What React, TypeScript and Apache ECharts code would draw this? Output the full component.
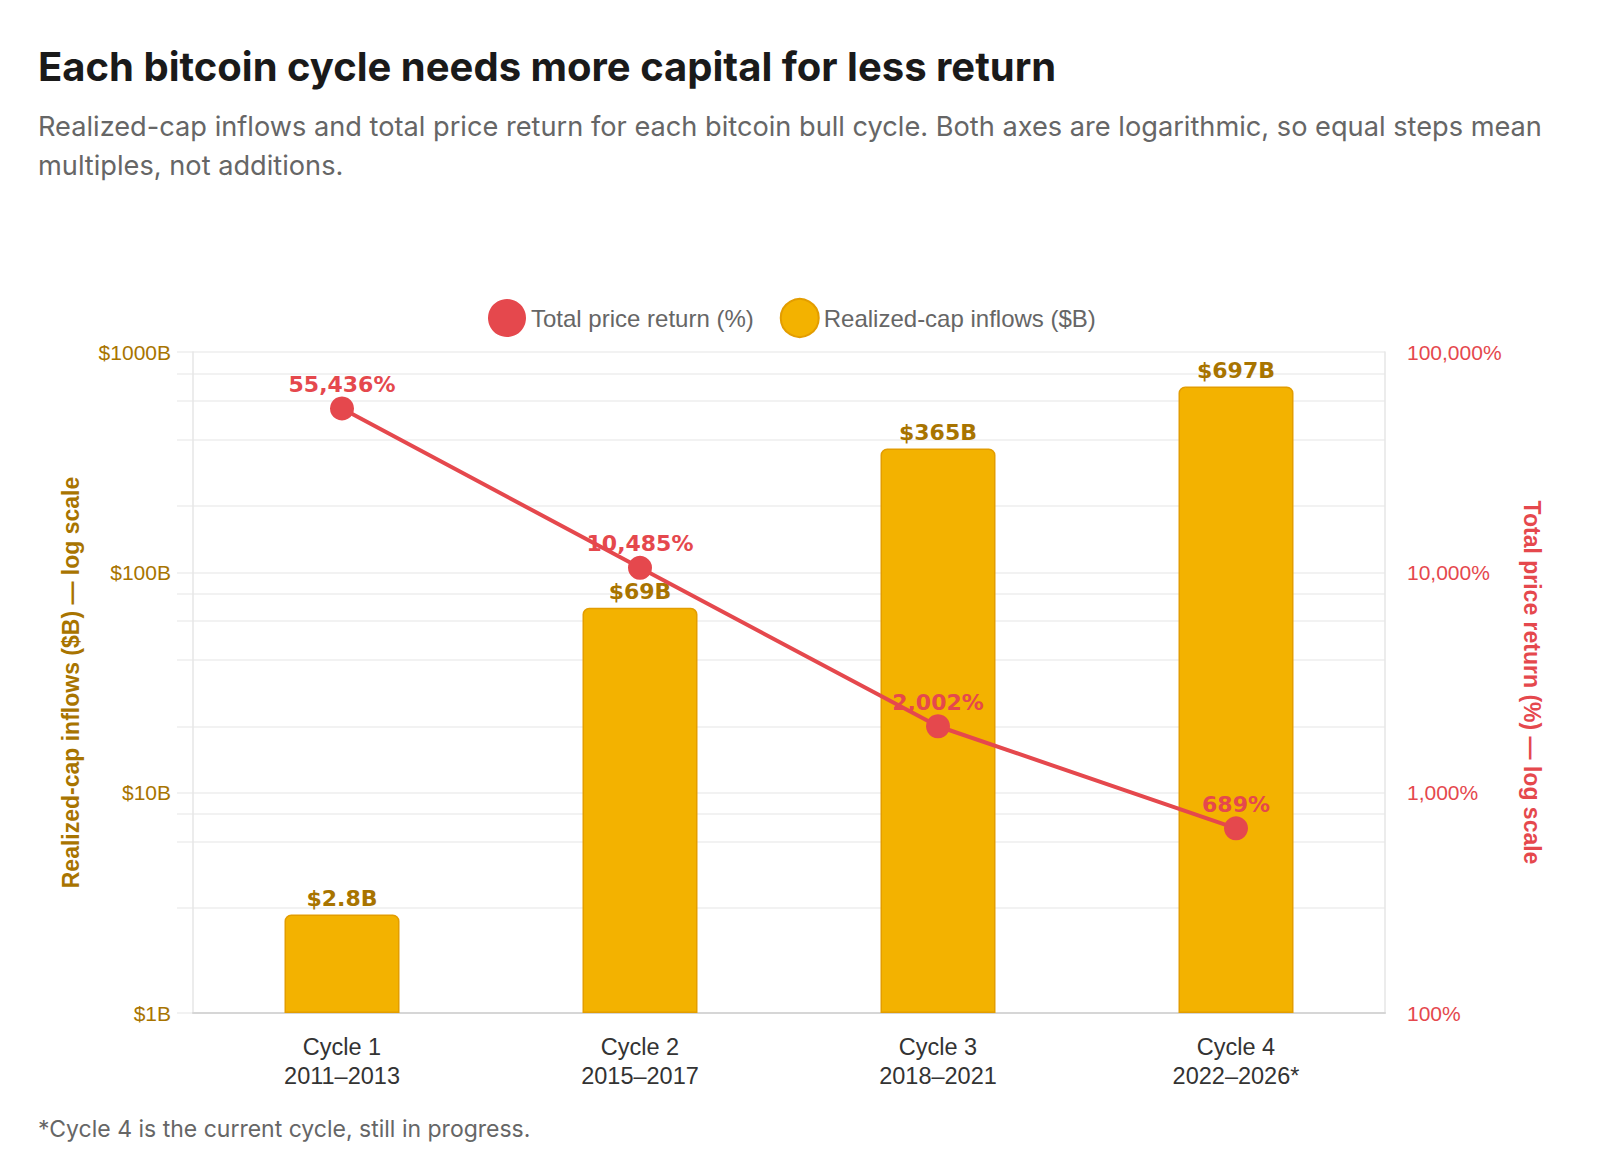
import React, { useEffect, useRef } from "react";
import * as echarts from "echarts";

const cycleNames = ["Cycle 1", "Cycle 2", "Cycle 3", "Cycle 4"];
const cycleYears = ["2011–2013", "2015–2017", "2018–2021", "2022–2026*"];
const inflowsB = [2.8, 69, 365, 697];
const priceReturnPct = [55436, 10485, 2002, 689];
const leftGridValues = [1, 3, 6, 8, 10, 20, 40, 60, 80, 100, 200, 400, 600, 800, 1000];

const TITLE = "Each bitcoin cycle needs more capital for less return";
const SUBTITLE =
  "Realized-cap inflows and total price return for each bitcoin bull cycle. Both axes are logarithmic, so equal steps mean\nmultiples, not additions.";
const FOOTNOTE = "*Cycle 4 is the current cycle, still in progress.";
const LINE_NAME = "Total price return (%)";
const BAR_NAME = "Realized-cap inflows ($B)";

const GOLD = "#a87400";
const RED = "#e5484d";
const BAR_FILL = "#f3b200";
const BAR_BORDER = "#e39d00";
const SANS = 'Helvetica, Arial, "Liberation Sans", sans-serif';
const UI = 'Inter, "Helvetica Neue", Arial, sans-serif';
const LABEL_FONT = '"DejaVu Sans", Verdana, sans-serif';

const fmtThousands = (v: number) => String(Math.round(v)).replace(/\B(?=(\d{3})+(?!\d))/g, ",");

const GRID = { left: 193, right: 225, top: 352, bottom: 143 };

export default function App() {
  const ref = useRef<HTMLDivElement>(null);
  useEffect(() => {
    document.body.style.margin = "0";
    const chart = echarts.init(ref.current!, null, { renderer: "svg" });
    const categories = cycleNames.map((n, i) => `${n}\n${cycleYears[i]}`);
    chart.setOption({
      animation: false,
      backgroundColor: "#ffffff",
      title: [
        {
          text: TITLE,
          left: 38,
          top: 46,
          padding: 0,
          textStyle: { fontFamily: UI, fontSize: 40, fontWeight: 700, color: "#1a1a1a" },
        },
        {
          text: SUBTITLE,
          left: 38,
          top: 107,
          padding: 0,
          textStyle: { fontFamily: UI, fontSize: 27.2, fontWeight: 400, color: "#666666", lineHeight: 39 },
        },
        {
          text: FOOTNOTE,
          left: 38,
          top: 1117,
          padding: 0,
          textStyle: { fontFamily: UI, fontSize: 23, fontWeight: 400, color: "#666666" },
        },
      ],
      legend: {
        data: [LINE_NAME, BAR_NAME],
        left: 488,
        top: 298,
        padding: 0,
        icon: "circle",
        itemWidth: 38,
        itemHeight: 38,
        itemGap: 26,
        textStyle: { fontFamily: SANS, fontSize: 24, color: "#666666" },
      },
      grid: [
        { ...GRID, containLabel: false },
        { left: 177, right: 225, top: 352, bottom: 143, containLabel: false },
      ],
      xAxis: [
        {
          type: "category",
          gridIndex: 0,
          data: categories,
          z: 1,
          axisLine: { show: true, lineStyle: { color: "#d6d6d6", width: 2 } },
          axisTick: { show: false },
          axisLabel: {
            margin: 19,
            fontFamily: SANS,
            fontSize: 23.5,
            lineHeight: 29,
            color: "#333333",
          },
          splitLine: { show: false },
        },
        {
          type: "category",
          gridIndex: 1,
          data: categories,
          show: false,
        },
      ],
      yAxis: [
        {
          type: "log",
          gridIndex: 0,
          logBase: 10,
          min: 1,
          max: 1000,
          position: "left",
          name: "Realized-cap inflows ($B) — log scale",
          nameLocation: "middle",
          nameGap: 111,
          nameTextStyle: { fontFamily: SANS, fontSize: 23, fontWeight: 700, color: GOLD },
          axisLine: { show: true, lineStyle: { color: "#e6e6e6", width: 1.5 } },
          axisTick: { show: false },
          splitLine: { show: false },
          axisLabel: {
            margin: 22,
            fontFamily: SANS,
            fontSize: 21,
            color: GOLD,
            formatter: (v: number) => `$${fmtThousands(v).replace(/,/g, "")}B`,
          },
        },
        {
          type: "log",
          gridIndex: 0,
          logBase: 10,
          min: 100,
          max: 100000,
          position: "right",
          name: "Total price return (%) — log scale",
          nameLocation: "middle",
          nameRotate: -90,
          nameGap: 135,
          nameTextStyle: { fontFamily: SANS, fontSize: 23, fontWeight: 700, color: RED },
          axisLine: { show: true, lineStyle: { color: "#e6e6e6", width: 1.5 } },
          axisTick: { show: false },
          splitLine: { show: false },
          axisLabel: {
            margin: 22,
            fontFamily: SANS,
            fontSize: 21,
            color: RED,
            formatter: (v: number) => `${fmtThousands(v)}%`,
          },
        },
        {
          type: "log",
          gridIndex: 1,
          logBase: 10,
          min: 1,
          max: 1000,
          show: false,
        },
      ],
      series: [
        {
          type: "line",
          name: "gridlines",
          xAxisIndex: 1,
          yAxisIndex: 2,
          data: inflowsB,
          symbol: "none",
          silent: true,
          z: 0,
          lineStyle: { opacity: 0 },
          tooltip: { show: false },
          markLine: {
            silent: true,
            z: 0,
            symbol: ["none", "none"],
            label: { show: false },
            lineStyle: { color: "#eeeeee", type: "solid", width: 1.5 },
            data: leftGridValues.map((v) => ({ yAxis: v })),
          },
        },
        {
          type: "bar",
          name: BAR_NAME,
          xAxisIndex: 0,
          yAxisIndex: 0,
          data: inflowsB,
          barWidth: 115,
          z: 2,
          itemStyle: {
            color: BAR_FILL,
            borderColor: BAR_BORDER,
            borderWidth: 1.5,
            borderRadius: [6, 6, 0, 0],
          },
          label: {
            show: true,
            position: "top",
            distance: 5,
            fontFamily: LABEL_FONT,
            fontSize: 22,
            fontWeight: 700,
            color: GOLD,
            formatter: (p: any) => `$${p.value}B`,
          },
        },
        {
          type: "line",
          name: LINE_NAME,
          xAxisIndex: 0,
          yAxisIndex: 1,
          data: priceReturnPct,
          z: 3,
          color: RED,
          symbol: "circle",
          symbolSize: 24,
          lineStyle: { color: RED, width: 4 },
          itemStyle: { color: RED },
          label: {
            show: true,
            position: "top",
            distance: 1,
            fontFamily: LABEL_FONT,
            fontSize: 22,
            fontWeight: 700,
            color: RED,
            formatter: (p: any) => `${fmtThousands(p.value)}%`,
          },
        },
      ],
    });
    return () => chart.dispose();
  }, []);
  return (
    <div
      ref={ref}
      style={{ position: "fixed", left: 0, top: 0, width: 1610, height: 1156, background: "#fff" }}
    />
  );
}
